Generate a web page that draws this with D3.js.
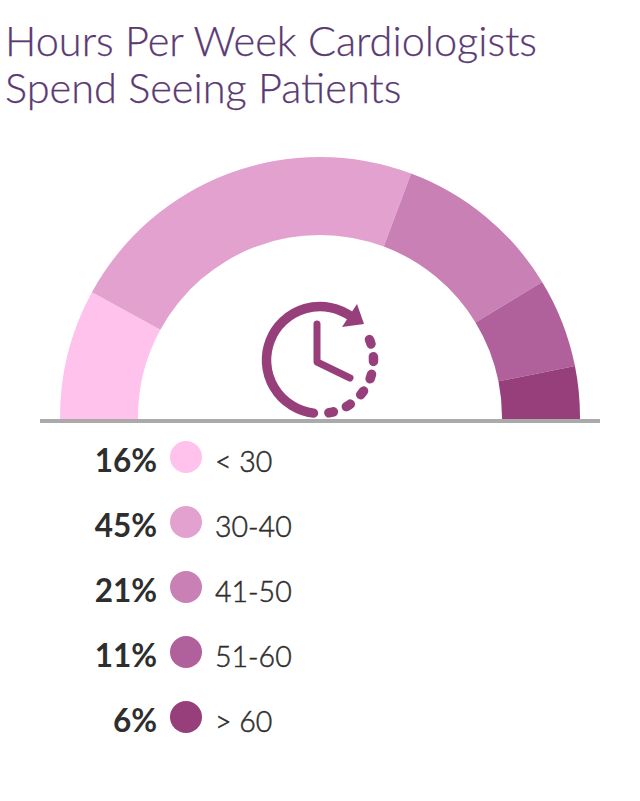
<!DOCTYPE html>
<html>
<head>
<meta charset="utf-8">
<script src="https://cdn.jsdelivr.net/npm/d3@7"></script>
<style>
  html, body { margin: 0; background: #fff; }
  text { font-family: Lato, "Open Sans", sans-serif; }
</style>
</head>
<body>
<div id="chart"></div>
<script>
const titleLines = ['Hours Per Week Cardiologists', 'Spend Seeing Patients'];
const categories = ['< 30', '30-40', '41-50', '51-60', '> 60'];
const shares = [16, 45, 21, 11, 6];
const colors = ['#ffc2ec', '#e3a1d0', '#c980b4', '#b0609a', '#963f7b'];

const width = 640;
const height = 801;
const cx = 320;
const cy = 417;
const baseY = 421;

const svg = d3.select('#chart')
  .append('svg')
  .attr('width', width)
  .attr('height', height)
  .style('display', 'block');

svg.selectAll('.title')
  .data(titleLines)
  .join('text')
  .attr('class', 'title')
  .attr('x', 5)
  .attr('y', (d, i) => 56 + i * 47)
  .attr('font-size', 41.5)
  .attr('font-weight', 300)
  .attr('fill', '#5b3a73')
  .attr('stroke', '#5b3a73')
  .attr('stroke-width', 0.25)
  .text((d) => d);

// half donut, turned a touch anticlockwise like the original
const tilt = (0.4 * Math.PI) / 180;
const pie = d3.pie()
  .sort(null)
  .startAngle(-Math.PI / 2 - tilt)
  .endAngle(Math.PI / 2 - tilt);

const arc = d3.arc().innerRadius(182).outerRadius(260);

// outer slices run a little past the horizontal so they meet the baseline
const overrun = (0.8 * Math.PI) / 180;
const slices = pie(shares);
slices[0].startAngle -= overrun;
slices[slices.length - 1].endAngle += overrun + tilt;

svg.append('g')
  .attr('transform', `translate(${cx}, ${cy})`)
  .selectAll('path')
  .data(slices)
  .join('path')
  .attr('d', arc)
  .attr('fill', (d, i) => colors[i]);

svg.append('line')
  .attr('x1', 40)
  .attr('x2', 600)
  .attr('y1', baseY)
  .attr('y2', baseY)
  .attr('stroke', '#aaa')
  .attr('stroke-width', 4);

// clock icon
const clock = svg.append('g')
  .attr('transform', `translate(${cx}, 360)`)
  .attr('fill', 'none')
  .attr('stroke', '#963f7b')
  .attr('stroke-linecap', 'round');

const iconArc = (from, to) => {
  const p = d3.path();
  const rad = (a) => ((a - 90) * Math.PI) / 180;
  p.arc(0, 0, 53.5, rad(from), rad(to));
  return p.toString();
};

clock.append('path')
  .attr('d', iconArc(187, 396))
  .attr('stroke-width', 9.5);

clock.selectAll('.tick-dash')
  .data([70, 89, 108, 128, 148, 168])
  .join('path')
  .attr('class', 'tick-dash')
  .attr('d', (d) => iconArc(d - 2.5, d + 2.5))
  .attr('stroke-width', 9.5);

clock.append('path')
  .attr('d', 'M37,-56L44,-36L22,-33Z')
  .attr('fill', '#963f7b')
  .attr('stroke', 'none');

clock.append('path')
  .attr('d', 'M-3,-36V2L30,18')
  .attr('stroke-width', 7)
  .attr('stroke-linejoin', 'round');

// legend
const rowY = d3.scalePoint().domain(categories).range([457, 717]);

const rows = svg.selectAll('.row')
  .data(categories)
  .join('g')
  .attr('class', 'row')
  .attr('transform', (d) => `translate(0, ${rowY(d)})`);

rows.append('circle')
  .attr('cx', 186)
  .attr('r', 16)
  .attr('fill', (d, i) => colors[i]);

rows.append('text')
  .attr('x', 157)
  .attr('y', 14.5)
  .attr('text-anchor', 'end')
  .attr('font-size', 31.5)
  .attr('font-weight', 700)
  .attr('fill', '#2e2e2e')
  .text((d, i) => `${shares[i]}%`);

rows.append('text')
  .attr('x', 215)
  .attr('y', 14.5)
  .attr('font-size', 28.5)
  .attr('font-weight', 300)
  .attr('fill', '#2e2e2e')
  .attr('stroke', '#2e2e2e')
  .attr('stroke-width', 0.5)
  .text((d) => d);
</script>
</body>
</html>
